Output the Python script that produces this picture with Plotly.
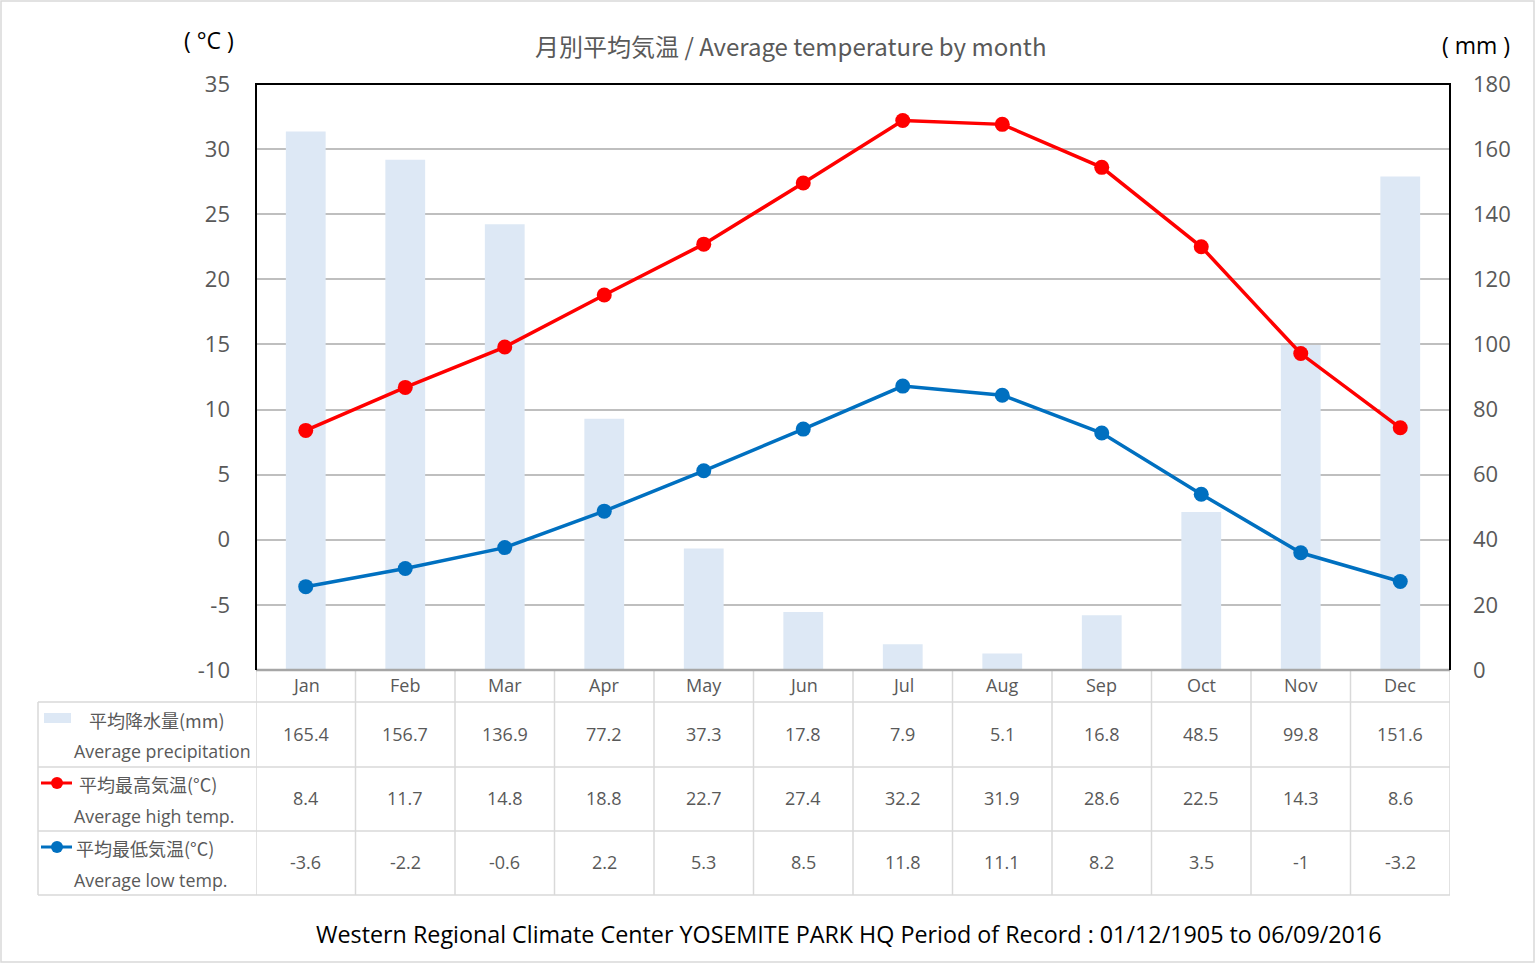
import plotly.graph_objects as go

months = ["Jan", "Feb", "Mar", "Apr", "May", "Jun", "Jul", "Aug", "Sep", "Oct", "Nov", "Dec"]
precip = [165.4, 156.7, 136.9, 77.2, 37.3, 17.8, 7.9, 5.1, 16.8, 48.5, 99.8, 151.6]
high = [8.4, 11.7, 14.8, 18.8, 22.7, 27.4, 32.2, 31.9, 28.6, 22.5, 14.3, 8.6]
low = [-3.6, -2.2, -0.6, 2.2, 5.3, 8.5, 11.8, 11.1, 8.2, 3.5, -1, -3.2]
temp_ticks = [-10, -5, 0, 5, 10, 15, 20, 25, 30, 35]
temp_labels = ["-10", "-5", "0", "5", "10", "15", "20", "25", "30", "35"]
mm_ticks = [0, 20, 40, 60, 80, 100, 120, 140, 160, 180]

W, H = 1536, 965
L, R, T, B = 256, 1450, 84, 670
FONT = "Open Sans, Noto Sans CJK JP, sans-serif"
JFONT = "Noto Sans CJK JP, Open Sans, sans-serif"
GREY = "#595959"
GRID = "#d9d9d9"


def px(xp):
    return (xp - L) / (R - L)


def py(yp):
    return (B - yp) / (B - T)


fig = go.Figure()
# bars on base axis (right side, mm) so the temperature lines (overlay axis) draw on top
fig.add_trace(go.Bar(x=months, y=precip, yaxis="y", marker=dict(color="#dde8f5", line=dict(width=0)),
                     name="平均降水量(mm)", showlegend=False))
fig.add_trace(go.Scatter(x=months, y=high, yaxis="y2", mode="lines+markers",
                         line=dict(color="#ff0000", width=3.5),
                         marker=dict(size=15, color="#ff0000"), name="平均最高気温(°C)", showlegend=False))
fig.add_trace(go.Scatter(x=months, y=low, yaxis="y2", mode="lines+markers",
                         line=dict(color="#0070c0", width=3.5),
                         marker=dict(size=15, color="#0070c0"), name="平均最低気温(°C)", showlegend=False))

shapes = []
# page border
shapes.append(dict(type="rect", xref="paper", yref="paper", x0=px(1), x1=px(W - 2), y0=py(H - 3), y1=py(1),
                   line=dict(color="#d9d9d9", width=1.5), layer="below"))
# table horizontal lines
for yy in [702, 767, 831, 895]:
    shapes.append(dict(type="line", xref="paper", yref="paper", x0=px(38), x1=px(R), y0=py(yy), y1=py(yy),
                       line=dict(color=GRID, width=1.5)))
# left column vertical line
shapes.append(dict(type="line", xref="paper", yref="paper", x0=px(38), x1=px(38), y0=py(702), y1=py(895),
                   line=dict(color=GRID, width=1.5)))
# month column boundaries
for i in range(len(months) + 1):
    shapes.append(dict(type="line", xref="x", yref="paper", x0=i - 0.5, x1=i - 0.5, y0=py(B), y1=py(895),
                       line=dict(color=GRID, width=1.5)))
# bottom axis line (grey)
shapes.append(dict(type="line", xref="paper", yref="paper", x0=0, x1=1, y0=0, y1=0,
                   line=dict(color="#a6a6a6", width=2.5)))
# frame left/top/right black
shapes.append(dict(type="path", xref="paper", yref="paper",
                   path="M 0 0 L 0 1 L 1 1 L 1 0", line=dict(color="black", width=2)))
# legend symbols
shapes.append(dict(type="rect", xref="paper", yref="paper", x0=px(44), x1=px(71), y0=py(723), y1=py(713),
                   fillcolor="#dde8f5", line=dict(width=0)))
for yy, col in [(783, "#ff0000"), (847, "#0070c0")]:
    shapes.append(dict(type="line", xref="paper", yref="paper", x0=px(41), x1=px(72), y0=py(yy), y1=py(yy),
                       line=dict(color=col, width=3)))
    shapes.append(dict(type="circle", xref="paper", yref="paper", x0=px(51), x1=px(63),
                       y0=py(yy + 6), y1=py(yy - 6), fillcolor=col, line=dict(width=0)))

ann = []


def add_text(text, x, y, size, color, family=FONT, xanchor="center", xref="paper"):
    ann.append(dict(x=x, xref=xref, y=py(y), yref="paper", text=text, showarrow=False,
                    xanchor=xanchor, yanchor="middle", font=dict(family=family, size=size, color=color)))


# month header + values
for i, m in enumerate(months):
    add_text(m, m, 685, 18, GREY, xref="x")
    for val, yy in [(precip[i], 734), (high[i], 798), (low[i], 862)]:
        add_text(f"{val:g}", m, yy, 18, GREY, xref="x")
# legend text
leg = [("平均降水量(mm)", 87, 720, JFONT), ("Average precipitation", 72, 751, FONT),
       ("平均最高気温(°C)", 77, 784, JFONT), ("Average high temp.", 72, 816, FONT),
       ("平均最低気温(°C)", 74, 848, JFONT), ("Average low temp.", 72, 880, FONT)]
for txt, xx, yy, fam in leg:
    add_text(txt, px(xx), yy, 17.8 if fam == FONT else 18, GREY, family=fam, xanchor="left")
# title
add_text("月別平均気温 / Average temperature by month", px(790), 45, 24, GREY, family=JFONT)
# units
add_text("( °C )", px(209), 40, 23, "black")
add_text("( mm )", px(1476), 45, 23, "black")
# footer
add_text("Western Regional Climate Center YOSEMITE PARK HQ Period of Record : 01/12/1905 to 06/09/2016",
         px(849), 934, 23.3, "black")

fig.update_layout(
    width=W, height=H,
    margin=dict(l=L, r=W - R, t=T, b=H - B, pad=0),
    paper_bgcolor="white", plot_bgcolor="white",
    bargap=0.6,
    xaxis=dict(type="category", categoryorder="array", categoryarray=months, range=[-0.5, 11.5],
               showticklabels=False, showgrid=False, zeroline=False, showline=False, ticks=""),
    yaxis=dict(range=[0, 180], tickvals=mm_ticks, side="right", showgrid=True, gridcolor="#bfbfbf",
               gridwidth=1.5, zeroline=False, showline=False, ticks="", ticklabelstandoff=22,
               tickfont=dict(family=FONT, size=22, color=GREY)),
    yaxis2=dict(range=[-10, 35], tickvals=temp_ticks, ticktext=temp_labels, overlaying="y", side="left",
                showgrid=False, zeroline=False, showline=False, ticks="", ticklabelstandoff=25,
                tickfont=dict(family=FONT, size=22, color=GREY)),
    shapes=shapes, annotations=ann, showlegend=False,
)

fig.write_html("out.html", config={"displayModeBar": False},
               post_script="document.body.style.margin='0';document.body.style.overflow='hidden';")
